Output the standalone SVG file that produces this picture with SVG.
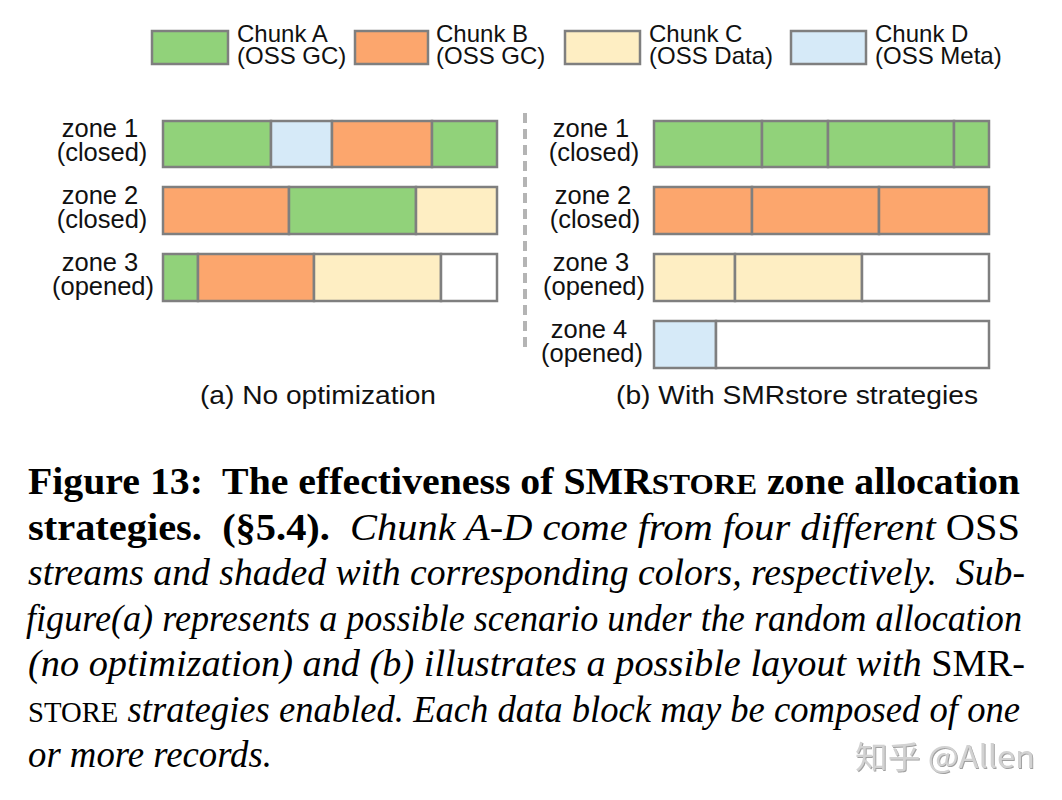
<svg xmlns="http://www.w3.org/2000/svg" width="1062" height="800" viewBox="0 0 1062 800">
<style>
.s{stroke:#7f7f7f;stroke-width:2.5}
.A{fill:#91d27a}.B{fill:#fca66d}.C{fill:#feeec3}.D{fill:#d6eaf8}.W{fill:#ffffff}
.lg{font-family:"Liberation Sans",Arial,sans-serif;font-size:24px;fill:#111}
.zl{font-family:"Liberation Sans",Arial,sans-serif;font-size:25.5px;fill:#111;text-anchor:middle}
.sc{font-family:"Liberation Sans",Arial,sans-serif;font-size:26.5px;fill:#111}
.cap{font-family:"Liberation Serif","Times New Roman",serif;font-size:37px;fill:#000}
.b{font-weight:bold}.i{font-style:italic}.sm{font-size:29px}
.wm{font-family:"Noto Sans CJK SC","Liberation Sans",sans-serif;font-size:31px;fill:#d2d2d2}
</style>
<defs>
<filter id="sh" x="-10%" y="-30%" width="120%" height="160%"><feDropShadow dx="1" dy="1" stdDeviation="0.6" flood-color="#777" flood-opacity="0.7"/></filter>
</defs>
<rect width="1062" height="800" fill="#fff"/>

<g id="legend">
<rect class="s A" x="152" y="31" width="76" height="33"/>
<text class="lg" x="237" y="42">Chunk A</text><text class="lg" x="237" y="64">(OSS GC)</text>
<rect class="s B" x="355" y="31" width="73" height="33"/>
<text class="lg" x="436" y="42">Chunk B</text><text class="lg" x="436" y="64">(OSS GC)</text>
<rect class="s C" x="565" y="31" width="75" height="33"/>
<text class="lg" x="649" y="42">Chunk C</text><text class="lg" x="649" y="64">(OSS Data)</text>
<rect class="s D" x="791" y="31" width="75" height="33"/>
<text class="lg" x="875" y="42">Chunk D</text><text class="lg" x="875" y="64">(OSS Meta)</text>
</g>

<g id="left-zone1">
<rect class="s A" x="163" y="121" width="108" height="46"/>
<rect class="s D" x="271" y="121" width="61" height="46"/>
<rect class="s B" x="332" y="121" width="100" height="46"/>
<rect class="s A" x="432" y="121" width="65" height="46"/>
<text class="zl" x="100" y="137">zone 1</text><text class="zl" x="102" y="161">(closed)</text>
</g>
<g id="left-zone2">
<rect class="s B" x="163" y="187" width="126" height="47"/>
<rect class="s A" x="289" y="187" width="127" height="47"/>
<rect class="s C" x="416" y="187" width="81" height="47"/>
<text class="zl" x="100" y="204">zone 2</text><text class="zl" x="102" y="228">(closed)</text>
</g>
<g id="left-zone3">
<rect class="s A" x="163" y="254" width="35" height="47"/>
<rect class="s B" x="198" y="254" width="116" height="47"/>
<rect class="s C" x="314" y="254" width="127" height="47"/>
<rect class="s W" x="441" y="254" width="56" height="47"/>
<text class="zl" x="100" y="271">zone 3</text><text class="zl" x="103" y="295">(opened)</text>
</g>

<g id="divider">
<line x1="525" y1="113" x2="525" y2="352" stroke="#b4b4b4" stroke-width="4" stroke-dasharray="10 6"/>
</g>

<g id="right-zone1">
<rect class="s A" x="654" y="121" width="108" height="46"/>
<rect class="s A" x="762" y="121" width="66" height="46"/>
<rect class="s A" x="828" y="121" width="126" height="46"/>
<rect class="s A" x="954" y="121" width="35" height="46"/>
<text class="zl" x="591" y="137">zone 1</text><text class="zl" x="594" y="161">(closed)</text>
</g>
<g id="right-zone2">
<rect class="s B" x="654" y="187" width="98" height="47"/>
<rect class="s B" x="752" y="187" width="127" height="47"/>
<rect class="s B" x="879" y="187" width="110" height="47"/>
<text class="zl" x="593" y="204">zone 2</text><text class="zl" x="595" y="228">(closed)</text>
</g>
<g id="right-zone3">
<rect class="s C" x="654" y="254" width="81" height="47"/>
<rect class="s C" x="735" y="254" width="127" height="47"/>
<rect class="s W" x="862" y="254" width="127" height="47"/>
<text class="zl" x="591" y="271">zone 3</text><text class="zl" x="594" y="295">(opened)</text>
</g>
<g id="right-zone4">
<rect class="s D" x="654" y="321" width="62" height="47"/>
<rect class="s W" x="716" y="321" width="273" height="47"/>
<text class="zl" x="589" y="338">zone 4</text><text class="zl" x="592" y="362">(opened)</text>
</g>

<g id="subcaptions">
<text class="sc" x="200" y="404" textLength="236" lengthAdjust="spacingAndGlyphs">(a) No optimization</text>
<text class="sc" x="616" y="404" textLength="362" lengthAdjust="spacingAndGlyphs">(b) With SMRstore strategies</text>
</g>

<g id="caption">
<text class="cap b" x="28" y="494" textLength="992" lengthAdjust="spacingAndGlyphs" xml:space="preserve">Figure 13:  The effectiveness of SMR<tspan class="sm">STORE</tspan> zone allocation</text>
<text class="cap" x="28" y="540" textLength="992" lengthAdjust="spacingAndGlyphs" xml:space="preserve"><tspan class="b">strategies.  (§5.4).  </tspan><tspan class="i">Chunk A-D come from four different </tspan>OSS</text>
<text class="cap i" x="28" y="585" textLength="997" lengthAdjust="spacingAndGlyphs" xml:space="preserve">streams and shaded with corresponding colors, respectively.  Sub-</text>
<text class="cap i" x="26" y="631" textLength="996" lengthAdjust="spacingAndGlyphs">figure(a) represents a possible scenario under the random allocation</text>
<text class="cap" x="28" y="676" textLength="997" lengthAdjust="spacingAndGlyphs"><tspan class="i">(no optimization) and (b) illustrates a possible layout with </tspan>SMR-</text>
<text class="cap" x="28" y="722" textLength="992" lengthAdjust="spacingAndGlyphs"><tspan class="sm">STORE</tspan><tspan class="i"> strategies enabled. Each data block may be composed of one</tspan></text>
<text class="cap i" x="28" y="767" textLength="244" lengthAdjust="spacingAndGlyphs">or more records.</text>
</g>

<g id="watermark">
<text class="wm" x="855" y="768" textLength="180" lengthAdjust="spacingAndGlyphs" filter="url(#sh)">知乎 @Allen</text>
</g>
</svg>
